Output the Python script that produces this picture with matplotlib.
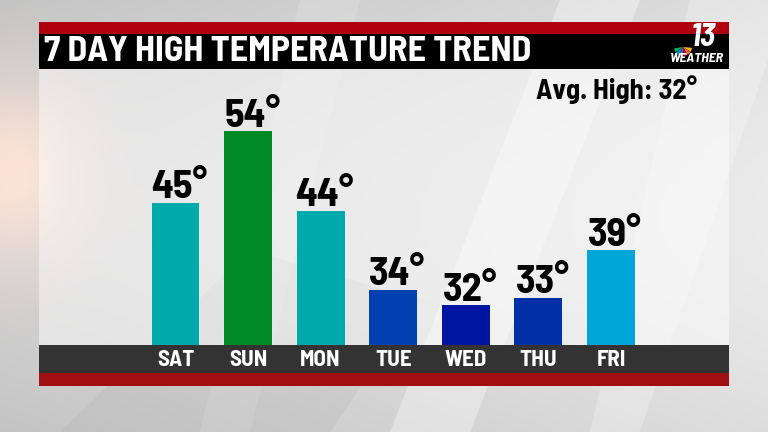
import numpy as np
import matplotlib
matplotlib.use("Agg")
import matplotlib.pyplot as plt
from matplotlib.patches import Rectangle, Polygon, Wedge

days = ["SAT", "SUN", "MON", "TUE", "WED", "THU", "FRI"]
highs = [45, 54, 44, 34, 32, 33, 39]
bar_colors = ["#00aaaa", "#008a25", "#00aaaa", "#0040b0", "#0016a0", "#0030a8", "#00a6d8"]
title = "7 DAY HIGH TEMPERATURE TREND"
avg_text = "Avg. High: 32°"

FONT = ["Barlow Semi Condensed", "DejaVu Sans"]

fig = plt.figure(figsize=(7.68, 4.32), dpi=100)

# background in pixel coordinates
bg = fig.add_axes([0, 0, 1, 1])
bg.set_xlim(0, 768)
bg.set_ylim(432, 0)
bg.axis("off")

# grey gradient with a warm glow on the left
yy, xx = np.mgrid[0:432, 0:768]
base = 0.77 + 0.10 * (xx / 768) + 0.05 * np.sin(yy / 432 * np.pi)
glow = np.exp(-(((xx - 10) / 70.0) ** 2 + ((yy - 170) / 90.0) ** 2))
img = np.dstack([base + 0.17 * glow, base + 0.07 * glow, base + 0.02 * glow])
bg.imshow(np.clip(img, 0, 1), extent=(0, 768, 432, 0), aspect="auto", zorder=0)

# diagonal light streaks
for pts, c, a in [
    ([(560, 0), (640, 0), (470, 432), (390, 432)], "white", 0.35),
    ([(690, 0), (768, 0), (768, 60), (640, 432), (590, 432)], "white", 0.25),
    ([(300, 0), (360, 0), (250, 432), (200, 432)], "white", 0.15),
    ([(60, 432), (250, 250), (420, 300), (330, 432)], "#a8a8a8", 0.18),
]:
    bg.add_patch(Polygon(pts, closed=True, color=c, alpha=a, lw=0, zorder=1))

# panel
bg.add_patch(Rectangle((39, 69), 690, 276, color="white", alpha=0.45, lw=0, zorder=2))
bg.add_patch(Rectangle((39, 22), 690, 12, color="#b0000f", lw=0, zorder=3))
bg.add_patch(Rectangle((39, 34), 690, 35, color="black", lw=0, zorder=3))
bg.add_patch(Rectangle((39, 345), 690, 28, color="#333333", lw=0, zorder=3))
bg.add_patch(Rectangle((39, 373), 690, 13, color="#a01010", lw=0, zorder=3))

bg.text(44, 52, title, color="white", fontsize=26, fontweight="bold", family=FONT,
        va="center", ha="left", zorder=4)

# logo
for i, c in enumerate(["#fcb711", "#f37021", "#cc004c", "#6460aa", "#0089d0", "#0db14b"]):
    bg.add_patch(Wedge((683, 47), 9, 5 + i * 28, 31 + i * 28, color=c, lw=0, zorder=4))
bg.text(703, 37, "13", color="white", fontsize=23, fontweight="bold", fontstyle="italic",
        family=FONT, ha="center", va="center", zorder=5)
bg.text(697, 59, "WEATHER", color="white", fontsize=10, fontweight="bold", fontstyle="italic",
        family=FONT, ha="center", va="center", zorder=5)

bg.text(697, 90, avg_text, color="black", fontsize=20.5, fontweight="bold", family=FONT,
        ha="right", va="center", zorder=4)

# bars
ax = fig.add_axes([39 / 768, (432 - 345) / 432, 690 / 768, 276 / 432])
ax.patch.set_alpha(0)
ax.axis("off")
x = np.arange(len(days))
ax.set_xlim(-1.88, 7.625)
ax.set_ylim(27, 61.9)
ax.bar(x, [h - 27 for h in highs], bottom=27, width=0.66, color=bar_colors, zorder=3)
for xi, h in zip(x, highs):
    ax.annotate(f"{h}°", (xi, h), xytext=(3, 3), textcoords="offset points",
                ha="center", va="baseline", fontsize=29, fontweight="bold",
                family=FONT, color="black")

# day labels on the dark strip
lab = fig.add_axes([39 / 768, (432 - 373) / 432, 690 / 768, 28 / 432])
lab.patch.set_alpha(0)
lab.axis("off")
lab.set_xlim(-1.88, 7.625)
lab.set_ylim(0, 1)
for xi, d in zip(x, days):
    lab.text(xi, 0.48, d, ha="center", va="center", color="white", fontsize=16.5,
             fontweight="bold", family=FONT)

fig.savefig("out.png", dpi=100)
